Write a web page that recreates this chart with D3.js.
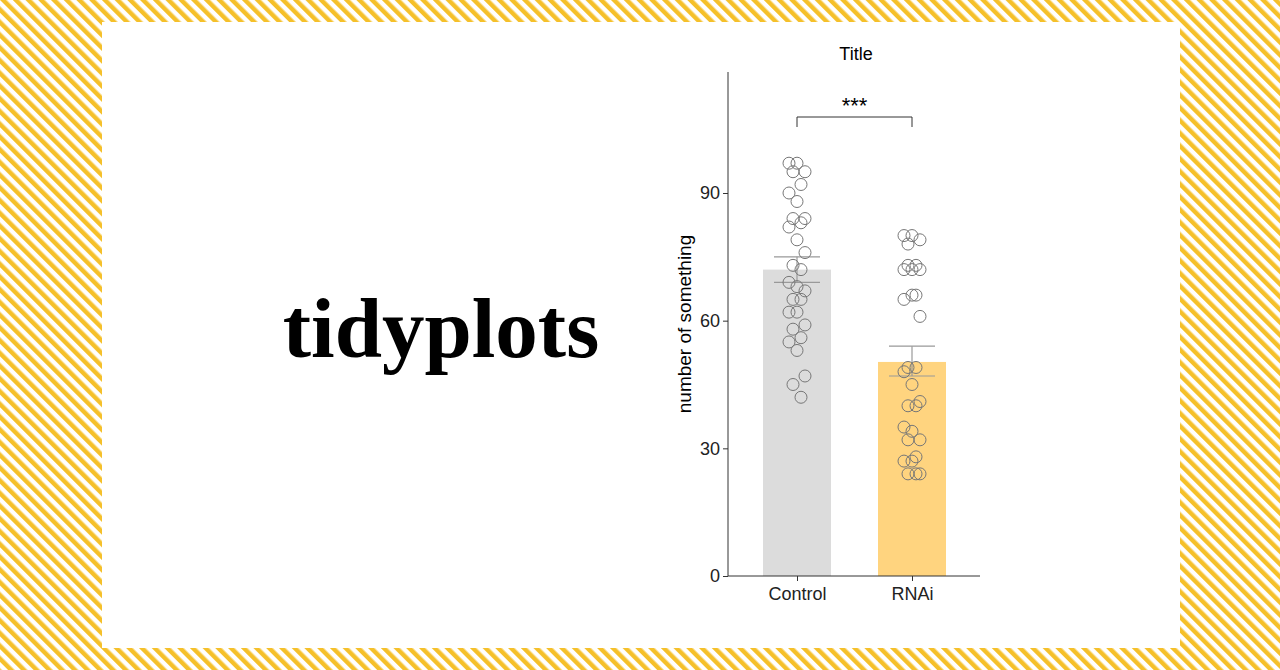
<!DOCTYPE html><html><head><meta charset="utf-8">
<script src="https://cdn.jsdelivr.net/npm/d3@7"></script>
<style>body{margin:0}svg{display:block}</style></head><body>
<svg id="c" width="1280" height="670"></svg>
<script>
const categories=["Control","RNAi"];
const controlValues=[97,97,95,95,92,90,88,84,84,83,82,79,76,73,72,69,68,67,65,65,62,62,59,58,56,55,53,47,45,42];
const rnaiValues=[80,80,79,78,73,72,72,72,73,66,65,66,61,49,49,48,45,41,40,40,35,34,32,32,28,27,27,24,24,24];
const means=[72,50.3];
const errLow=[69,47];
const errHigh=[75,54];
const yTicks=[0,30,60,90];
const barColors=["#dcdcdc","#ffd47f"];
const series=[controlValues,rnaiValues];

const svg=d3.select("#c");
const defs=svg.append("defs");
const pat=defs.append("pattern").attr("id","st").attr("patternUnits","userSpaceOnUse").attr("width",9).attr("height",9).attr("patternTransform","rotate(-45)");
pat.append("rect").attr("width",9).attr("height",9).attr("fill","#fff");
pat.append("rect").attr("width",4.5).attr("height",9).attr("fill","#f5c02a");
svg.append("rect").attr("width",1280).attr("height",670).attr("fill","url(#st)");
svg.append("rect").attr("x",102).attr("y",22).attr("width",1078).attr("height",626).attr("fill","#fff");

svg.append("text").attr("x",441).attr("y",357).attr("text-anchor","middle").attr("font-family","Liberation Serif").attr("font-weight","bold").attr("font-size",85).text("tidyplots");

const y=d3.scaleLinear().domain([0,90]).range([576,193]);
const x=d3.scalePoint().domain(categories).range([797,912]);
const g=svg.append("g");
const f="Liberation Sans, Arial, sans-serif";
categories.forEach((c,i)=>{
  const cx=x(c), bw=68;
  g.append("rect").attr("x",cx-bw/2).attr("y",y(means[i])).attr("width",bw).attr("height",y(0)-y(means[i])).attr("fill",barColors[i]);
  g.append("line").attr("x1",cx).attr("x2",cx).attr("y1",y(errLow[i])).attr("y2",y(errHigh[i])).attr("stroke","#999").attr("stroke-width",1.2);
  [errLow[i],errHigh[i]].forEach(v=>g.append("line").attr("x1",cx-23).attr("x2",cx+23).attr("y1",y(v)).attr("y2",y(v)).attr("stroke","#999").attr("stroke-width",1.2));
  series[i].forEach((v,j)=>{
    const off=[-8,0,8,-4,4][j%5];
    g.append("circle").attr("cx",cx+off).attr("cy",y(v)).attr("r",6).attr("fill","none").attr("stroke","#777").attr("stroke-width",1);
  });
});
const ax=g.append("g").attr("transform","translate(728,0)").call(d3.axisLeft(y).tickValues(yTicks).tickSize(5).tickSizeOuter(0));
ax.select(".domain").attr("d","M0,72V576");
ax.selectAll("text").attr("font-size",18).attr("font-family",f).attr("fill","#222");
ax.selectAll("line,path").attr("stroke","#333");
const bx=g.append("g").attr("transform","translate(0,576)").call(d3.axisBottom(x).tickSize(5).tickSizeOuter(0));
bx.select(".domain").attr("d","M728,0H980");
bx.selectAll("text").attr("font-size",18).attr("font-family",f).attr("fill","#222").attr("dy","0.9em");
bx.selectAll("line,path").attr("stroke","#333");
const x1=x("Control"),x2=x("RNAi");
g.append("path").attr("d",`M${x1},127V117H${x2}V127`).attr("fill","none").attr("stroke","#333");
g.append("text").attr("x",(x1+x2)/2).attr("y",113).attr("text-anchor","middle").attr("font-size",22).attr("font-family",f).text("***");
g.append("text").attr("x",856).attr("y",60).attr("text-anchor","middle").attr("font-size",18).attr("font-family",f).text("Title");
g.append("text").attr("transform","translate(691,324) rotate(-90)").attr("text-anchor","middle").attr("font-size",19).attr("font-family",f).text("number of something");
</script></body></html>
